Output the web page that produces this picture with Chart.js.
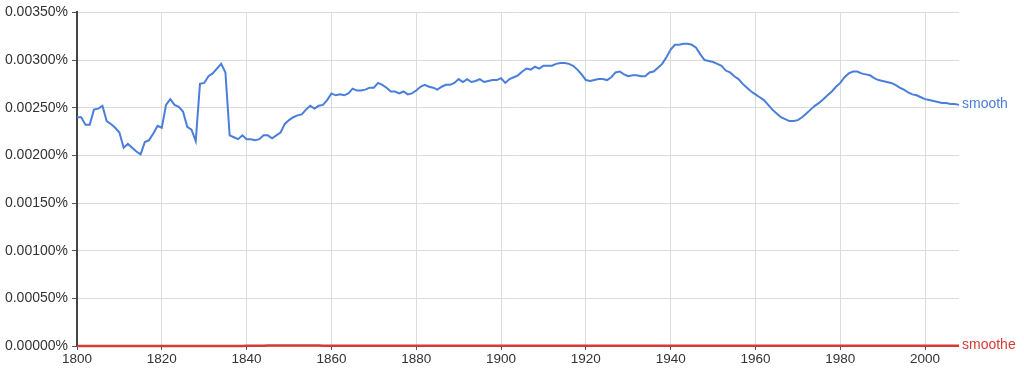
<!DOCTYPE html>
<html>
<head>
<meta charset="utf-8">
<script src="https://cdn.jsdelivr.net/npm/chart.js@4/dist/chart.umd.min.js"></script>
<style>
  html, body { margin: 0; padding: 0; background: #fff; }
  #chart { display: block; }
</style>
</head>
<body>
<canvas id="chart" width="1024" height="373"></canvas>
<script>
// Ngram frequencies (percent), one value per year from 1800 to 2008
const firstYear = 1800;
const lastYear = 2008;

const smooth = [
  0.00240, 0.00240, 0.00232, 0.00232, 0.00248, 0.00249, 0.00252, 0.00236, 0.00233, 0.00229,
  0.00224, 0.00208, 0.00212, 0.00208, 0.00204, 0.00201, 0.00214, 0.00216, 0.00223, 0.00231,
  0.00229, 0.00253, 0.00259, 0.00253, 0.00251, 0.00246, 0.00230, 0.00227, 0.00215, 0.00275,
  0.00276, 0.00283, 0.00286, 0.00291, 0.00296, 0.00287, 0.00221, 0.00219, 0.00217, 0.00221,
  0.00217, 0.00217, 0.00216, 0.00217, 0.00221, 0.00221, 0.00218, 0.00221, 0.00224, 0.00233,
  0.00237, 0.00240, 0.00242, 0.00243, 0.00248, 0.00252, 0.00249, 0.00252, 0.00253, 0.00258,
  0.00265, 0.00263, 0.00264, 0.00263, 0.00265, 0.00270, 0.00268, 0.00268, 0.00269, 0.00271,
  0.00271, 0.00276, 0.00274, 0.00271, 0.00267, 0.00267, 0.00265, 0.00267, 0.00264, 0.00265,
  0.00268, 0.00272, 0.00274, 0.00272, 0.00271, 0.00269, 0.00272, 0.00274, 0.00274, 0.00276,
  0.00280, 0.00277, 0.00280, 0.00277, 0.00278, 0.00280, 0.00277, 0.00278, 0.00279, 0.00279,
  0.00281, 0.00276, 0.00280, 0.00282, 0.00284, 0.00288, 0.00291, 0.00290, 0.00293, 0.00291,
  0.00294, 0.00294, 0.00294, 0.00296, 0.00297, 0.00297, 0.00296, 0.00294, 0.00290, 0.00285,
  0.00279, 0.00278, 0.00279, 0.00280, 0.00280, 0.00279, 0.00282, 0.00287, 0.00288, 0.00285,
  0.00283, 0.00284, 0.00284, 0.00283, 0.00283, 0.00287, 0.00288, 0.00292, 0.00296, 0.00303,
  0.00311, 0.00316, 0.00316, 0.00317, 0.00317, 0.00316, 0.00313, 0.00306, 0.00300, 0.00299,
  0.00298, 0.00296, 0.00294, 0.00289, 0.00287, 0.00283, 0.00280, 0.00275, 0.00271, 0.00267,
  0.00264, 0.00261, 0.00258, 0.00253, 0.00248, 0.00244, 0.00240, 0.00238, 0.00236, 0.00236,
  0.00237, 0.00240, 0.00244, 0.00248, 0.00252, 0.00255, 0.00259, 0.00263, 0.00267, 0.00272,
  0.00276, 0.00282, 0.00286, 0.00288, 0.00288, 0.00286, 0.00285, 0.00284, 0.00281, 0.00279,
  0.00278, 0.00277, 0.00276, 0.00274, 0.00271, 0.00269, 0.00266, 0.00264, 0.00263, 0.00261,
  0.00259, 0.00258, 0.00257, 0.00256, 0.00255, 0.00255, 0.00254, 0.00254, 0.00253
];

const smoothe = [
  0.000001, 0.000001, 0.000001, 0.000001, 0.000001, 0.000001, 0.000001, 0.000001, 0.000001, 0.000001,
  0.000001, 0.000001, 0.000001, 0.000001, 0.000001, 0.000001, 0.000001, 0.000001, 0.000001, 0.000001,
  0.000001, 0.000001, 0.000001, 0.000001, 0.000001, 0.000001, 0.000001, 0.000001, 0.000001, 0.000001,
  0.000001, 0.000001, 0.000001, 0.000001, 0.000001, 0.000001, 0.000001, 0.000001, 0.000001, 0.000001,
  0.000002, 0.000002, 0.000002, 0.000002, 0.000003, 0.000004, 0.000005, 0.000005, 0.000006, 0.000006,
  0.000006, 0.000006, 0.000005, 0.000005, 0.000005, 0.000004, 0.000004, 0.000004, 0.000003, 0.000003,
  0.000003, 0.000003, 0.000003, 0.000003, 0.000003, 0.000003, 0.000003, 0.000003, 0.000003, 0.000002,
  0.000002, 0.000002, 0.000002, 0.000002, 0.000002, 0.000002, 0.000002, 0.000002, 0.000002, 0.000002,
  0.000002, 0.000002, 0.000002, 0.000002, 0.000002, 0.000002, 0.000002, 0.000002, 0.000002, 0.000002,
  0.000002, 0.000002, 0.000002, 0.000002, 0.000002, 0.000002, 0.000002, 0.000002, 0.000002, 0.000002,
  0.000002, 0.000002, 0.000002, 0.000002, 0.000002, 0.000002, 0.000002, 0.000002, 0.000002, 0.000002,
  0.000002, 0.000002, 0.000002, 0.000002, 0.000002, 0.000002, 0.000002, 0.000002, 0.000002, 0.000002,
  0.000002, 0.000002, 0.000002, 0.000002, 0.000002, 0.000002, 0.000002, 0.000002, 0.000002, 0.000002,
  0.000002, 0.000002, 0.000002, 0.000002, 0.000002, 0.000002, 0.000002, 0.000002, 0.000002, 0.000002,
  0.000002, 0.000002, 0.000002, 0.000002, 0.000002, 0.000002, 0.000002, 0.000002, 0.000002, 0.000002,
  0.000002, 0.000002, 0.000002, 0.000002, 0.000002, 0.000002, 0.000002, 0.000002, 0.000002, 0.000002,
  0.000002, 0.000002, 0.000002, 0.000002, 0.000002, 0.000002, 0.000002, 0.000002, 0.000002, 0.000002,
  0.000002, 0.000002, 0.000002, 0.000002, 0.000002, 0.000002, 0.000002, 0.000002, 0.000002, 0.000002,
  0.000002, 0.000002, 0.000002, 0.000002, 0.000002, 0.000002, 0.000002, 0.000002, 0.000002, 0.000002,
  0.000002, 0.000002, 0.000002, 0.000002, 0.000002, 0.000002, 0.000002, 0.000002, 0.000002, 0.000002,
  0.000002, 0.000002, 0.000002, 0.000002, 0.000002, 0.000002, 0.000002, 0.000002, 0.000002
];

const years = smooth.map((_, i) => firstYear + i);

const yMax = 0.0035;
const yStep = 0.0005;
const xStep = 20;

const FONT = '"Liberation Sans", Arial, Helvetica, sans-serif';
const BLUE = '#4a7edb';
const RED = '#d63a36';
const TEXT = '#333';

// Write each series' name just right of its last point
const endLabels = {
    id: 'endLabels',
    afterDatasetsDraw(chart) {
        const ctx = chart.ctx;
        ctx.save();
        ctx.font = '14px ' + FONT;
        ctx.textAlign = 'left';
        ctx.textBaseline = 'middle';
        chart.data.datasets.forEach((ds, i) => {
            const pts = chart.getDatasetMeta(i).data;
            const last = pts[pts.length - 1];
            ctx.fillStyle = ds.borderColor;
            ctx.fillText(ds.label, last.x + 3, last.y - 1);
        });
        ctx.restore();
    }
};

const toPoints = values => values.map((v, i) => ({ x: years[i], y: v }));

new Chart(document.getElementById('chart'), {
    type: 'line',
    data: {
        datasets: [
            {
                label: 'smooth',
                data: toPoints(smooth),
                borderColor: BLUE,
                borderWidth: 2,
                pointRadius: 0,
                tension: 0,
                clip: false
            },
            {
                label: 'smoothe',
                data: toPoints(smoothe),
                borderColor: RED,
                borderWidth: 2.5,
                pointRadius: 0,
                tension: 0,
                clip: false
            }
        ]
    },
    options: {
        responsive: false,
        animation: false,
        devicePixelRatio: 1,
        layout: { padding: { top: 11, right: 65, left: 0, bottom: 0 } },
        plugins: {
            legend: { display: false },
            tooltip: { enabled: false }
        },
        scales: {
            x: {
                type: 'linear',
                min: firstYear,
                max: lastYear,
                afterFit: scale => { scale.height = 27; },
                ticks: {
                    stepSize: xStep,
                    includeBounds: false,
                    maxRotation: 0,
                    autoSkip: false,
                    padding: 1,
                    color: TEXT,
                    font: { family: FONT, size: 13.5 },
                    callback: v => String(v)
                },
                grid: {
                    color: '#dcdcdc',
                    tickColor: '#555',
                    tickLength: 4,
                    lineWidth: 1
                },
                border: { display: false }
            },
            y: {
                min: 0,
                max: yMax,
                afterFit: scale => { scale.width = 77; },
                ticks: {
                    stepSize: yStep,
                    padding: 4,
                    color: TEXT,
                    font: { family: FONT, size: 14 },
                    callback: v => v.toFixed(5) + '%'
                },
                grid: {
                    color: '#dcdcdc',
                    tickColor: '#555',
                    tickLength: 5,
                    lineWidth: 1
                },
                border: { color: '#444', width: 2 }
            }
        }
    },
    plugins: [endLabels]
});
</script>
</body>
</html>
